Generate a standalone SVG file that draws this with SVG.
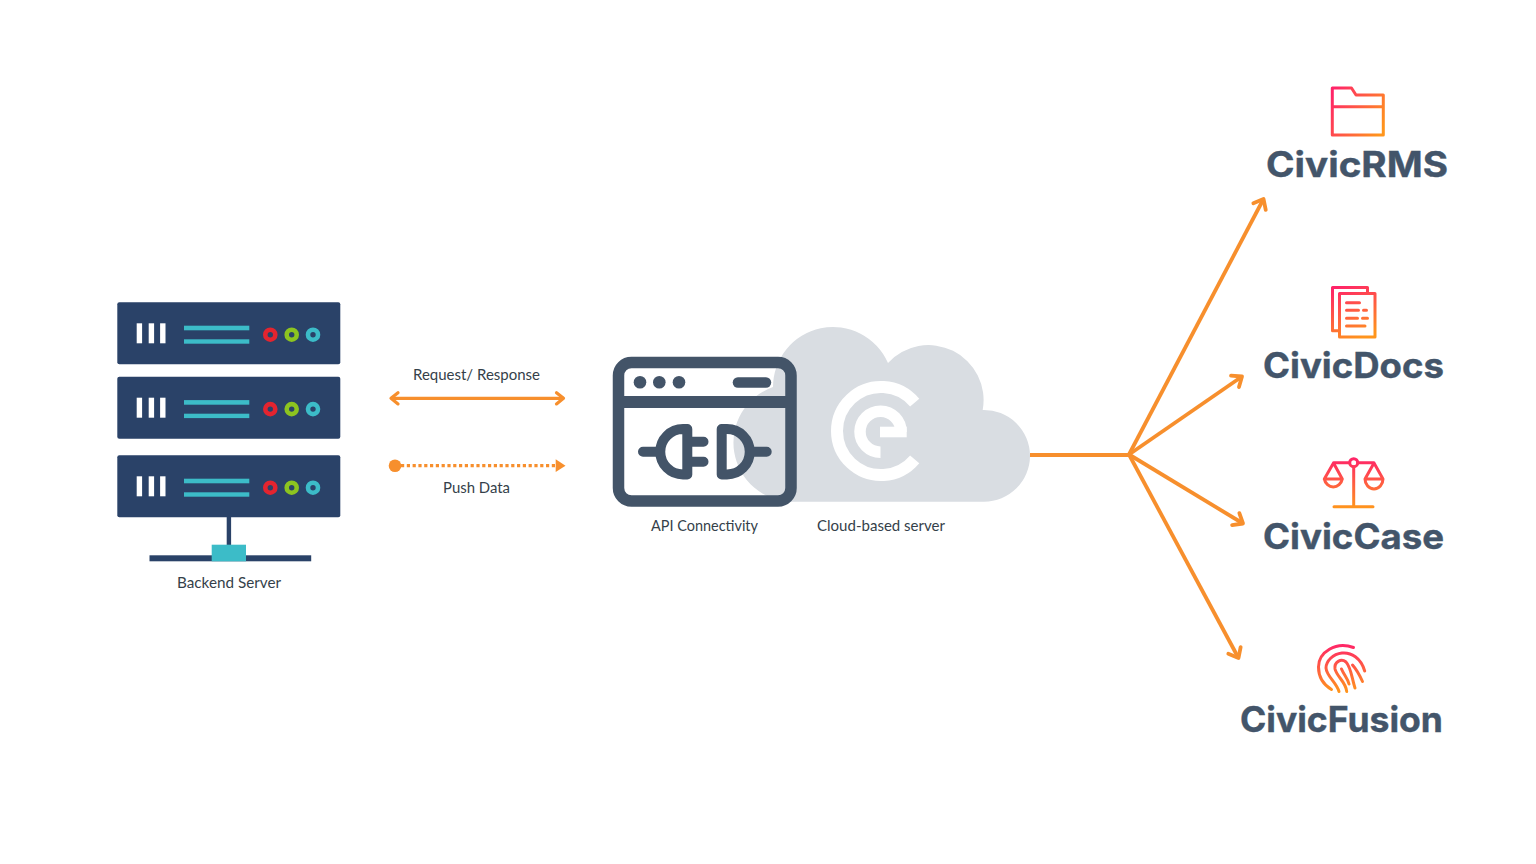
<svg xmlns="http://www.w3.org/2000/svg" width="1536" height="864" viewBox="0 0 1536 864">
<style>
.lbl{font-family:"Lato","Open Sans","Liberation Sans",sans-serif;font-size:15px;fill:#353f4a;text-anchor:middle}
.title{font-family:"Inter","Open Sans","Liberation Sans",sans-serif;font-weight:700;font-size:35px;fill:#43556a;stroke:#43556a;stroke-width:.4}
.rack{fill:#2a4268}
.led{fill:#2a4268;stroke-width:4.6}
.teal{fill:#3cbcc8}
.white{fill:#fff}
.win{fill:none;stroke:#435468;stroke-width:11.5}
.plug{fill:none;stroke:#435468;stroke-width:10;stroke-linecap:round;stroke-linejoin:round}
.ic{fill:none;stroke-width:3;stroke-linecap:round;stroke-linejoin:round}
.or{fill:none;stroke:#f78f2d;stroke-width:3.8}
.or2{fill:none;stroke:#f78f2d;stroke-width:3.2}
</style>
<defs>
<linearGradient id="g1" gradientUnits="userSpaceOnUse" x1="1331" y1="95" x2="1385" y2="125"><stop offset="0" stop-color="#ff2468"/><stop offset="1" stop-color="#ff951c"/></linearGradient>
<linearGradient id="g2" gradientUnits="userSpaceOnUse" x1="1340" y1="286" x2="1362" y2="338"><stop offset="0" stop-color="#ff2468"/><stop offset="1" stop-color="#ff951c"/></linearGradient>
<linearGradient id="g3" gradientUnits="userSpaceOnUse" x1="1353" y1="458" x2="1353" y2="508"><stop offset="0" stop-color="#ff2468"/><stop offset="1" stop-color="#ff951c"/></linearGradient>
<linearGradient id="g4" gradientUnits="userSpaceOnUse" x1="1342" y1="644" x2="1342" y2="692"><stop offset="0" stop-color="#ff2468"/><stop offset="1" stop-color="#ff951c"/></linearGradient>
<marker id="chev" markerUnits="userSpaceOnUse" markerWidth="24" markerHeight="24" viewBox="-14 -12 24 24" refX="0" refY="0" orient="auto"><path d="M-8.5 -7 L0 0 L-8.5 7" fill="none" stroke="#f78f2d" stroke-width="3.8" stroke-linecap="round" stroke-linejoin="round"/></marker>
<marker id="chev2" markerUnits="userSpaceOnUse" markerWidth="24" markerHeight="24" viewBox="-14 -12 24 24" refX="0" refY="0" orient="auto-start-reverse"><path d="M-7 -5.6 L0 0 L-7 5.6" fill="none" stroke="#f78f2d" stroke-width="3.2" stroke-linecap="round" stroke-linejoin="round"/></marker>
<g id="unit">
<rect class="rack" width="223" height="62" rx="2"/>
<rect class="white" x="19.4" y="21" width="5.4" height="20"/><rect class="white" x="31.4" y="21" width="5.4" height="20"/><rect class="white" x="42.8" y="21" width="5.4" height="20"/>
<rect class="teal" x="66.7" y="23.4" width="65.3" height="4.6"/><rect class="teal" x="66.7" y="37" width="65.3" height="4.4"/>
<circle class="led" cx="153" cy="32.4" r="5" stroke="#e3242f"/><circle class="led" cx="174.4" cy="32.4" r="5" stroke="#8cc420"/><circle class="led" cx="195.7" cy="32.4" r="5" stroke="#3cbcc8"/>
</g>
</defs>
<rect width="1536" height="864" fill="#fff"/>

<g id="backend-server">
<use href="#unit" x="117.3" y="302.3"/>
<use href="#unit" x="117.3" y="376.7"/>
<use href="#unit" x="117.3" y="455.3"/>
<rect class="rack" x="226.7" y="517" width="4.4" height="30"/>
<rect class="rack" x="149.5" y="555.3" width="161.7" height="6"/>
<rect class="teal" x="211.7" y="544.7" width="34.3" height="16.6"/>
<text class="lbl" x="229" y="587.500" textLength="104" lengthAdjust="spacingAndGlyphs">Backend Server</text>
</g>

<g id="cloud-server">
<path fill="#d9dde2" d="M792 501.700A59 59 0 0 1 773 387A60 60 0 0 1 888 363A55 55 0 0 1 982.700 410A46 46 0 0 1 1030 456A46 46 0 0 1 984 501.700Z"/>
<path fill="none" stroke="#fff" stroke-width="12" d="M914.700 402.700A44 44 0 1 0 914.700 459.300"/>
<path fill="none" stroke="#fff" stroke-width="11.500" d="M880.500 452.200A20.500 20.500 0 1 1 901 432"/>
<rect class="white" x="880" y="426.700" width="26.700" height="10.600"/>
<text class="lbl" x="881" y="530.500" textLength="128" lengthAdjust="spacingAndGlyphs">Cloud-based server</text>
</g>

<g id="api-connectivity">
<rect class="win" x="618.500" y="362.500" width="172.500" height="138.500" rx="13"/>
<rect x="619" y="396" width="172" height="12" fill="#435468"/>
<circle cx="640" cy="382.300" r="6.300" fill="#435468"/><circle cx="659.300" cy="382.300" r="6.300" fill="#435468"/><circle cx="679" cy="382.300" r="6.300" fill="#435468"/>
<rect x="732.700" y="377.300" width="38.500" height="10.400" rx="5.200" fill="#435468"/>
<path class="plug" d="M687.300 429H683A22.750 22.750 0 0 0 683 474.500H687.300ZM643 451.700H660M690 441.700H703.500M690 461.700H703.500"/>
<path class="plug" d="M721.700 429H727A22.750 22.750 0 0 1 727 474.500H721.700ZM750 451.700H766.700"/>
<text class="lbl" x="704.500" y="530.500" textLength="107" lengthAdjust="spacingAndGlyphs">API Connectivity</text>
</g>

<g id="connectors">
<line class="or2" x1="391" y1="398.300" x2="563.500" y2="398.300" marker-start="url(#chev2)" marker-end="url(#chev2)"/>
<line class="or2" x1="401" y1="465.700" x2="556" y2="465.700" stroke-dasharray="3.200 2.600"/>
<circle cx="395" cy="465.700" r="6.300" fill="#f78f2d"/>
<path d="M555.700 459.300L565.500 465.700L555.700 472Z" fill="#f78f2d"/>
<line class="or" x1="1030" y1="455" x2="1129" y2="455"/>
<line class="or" x1="1129" y1="454.500" x2="1263.500" y2="199" marker-end="url(#chev)"/>
<line class="or" x1="1129" y1="454.500" x2="1242" y2="376.500" marker-end="url(#chev)"/>
<line class="or" x1="1129" y1="454.500" x2="1243" y2="523.500" marker-end="url(#chev)"/>
<line class="or" x1="1129" y1="454.500" x2="1238.500" y2="658" marker-end="url(#chev)"/>
<text class="lbl" x="476.500" y="379.500" textLength="127" lengthAdjust="spacingAndGlyphs">Request/ Response</text>
<text class="lbl" x="476.500" y="493" textLength="67" lengthAdjust="spacingAndGlyphs">Push Data</text>
</g>

<g id="civicrms">
<path class="ic" style="stroke:url(#g1)" d="M1332.300 94.700V88H1351.500L1356 95H1383.300V135H1332.300ZM1332.300 94V106.700H1383.300"/>
<text class="title" x="1266" y="177.300" textLength="182" lengthAdjust="spacingAndGlyphs">CivicRMS</text>
</g>

<g id="civicdocs">
<path class="ic" style="stroke:url(#g2)" d="M1367.500 292V287.500H1332.500V330.700H1338.500M1339.500 293.500H1375V337H1339.500ZM1346.500 302.700H1359.500M1346.500 310.300H1358.500M1363.500 310.300H1366.500M1346.500 318.300H1357.500M1362.500 318.300H1367.500M1346.500 326H1365"/>
<text class="title" x="1263" y="378.300" textLength="181" lengthAdjust="spacingAndGlyphs">CivicDocs</text>
</g>

<g id="civiccase">
<path class="ic" style="stroke:url(#g3)" d="M1333.500 462.700H1349.700M1357.700 462.700H1374M1353.700 466.700V506.700M1334 506.700H1373M1333.500 463L1324.300 479M1333.500 463L1342.300 479M1324.300 479A9.200 10 0 0 0 1342.300 479ZM1374 463L1365 479M1374 463L1383 479M1365 479A9 10 0 0 0 1383 479Z"/>
<circle class="ic" cx="1353.700" cy="462.700" r="4" style="stroke:url(#g3)"/>
<text class="title" x="1263" y="549.300" textLength="181" lengthAdjust="spacingAndGlyphs">CivicCase</text>
</g>

<g id="civicfusion">
<path class="ic" style="stroke:url(#g4)" d="M1353.500 647.500C1336 641 1318.500 652 1318.500 667C1318.500 677 1324 685 1331.500 689.500M1364.700 671C1361 658 1351 652 1342 653C1333 654 1326 661 1326 668C1326.500 676 1336 682 1339 691.500M1352.500 665C1357 670 1360 676 1362.500 681.500M1346.700 691.500C1346 682 1337 677 1335 669C1334 662 1341 658 1346 662C1351 667 1352 679 1355 688M1341.500 669C1344 675 1347.500 678 1349 684"/>
<text class="title" x="1240" y="732.300" textLength="203" lengthAdjust="spacingAndGlyphs">CivicFusion</text>
</g>
</svg>
